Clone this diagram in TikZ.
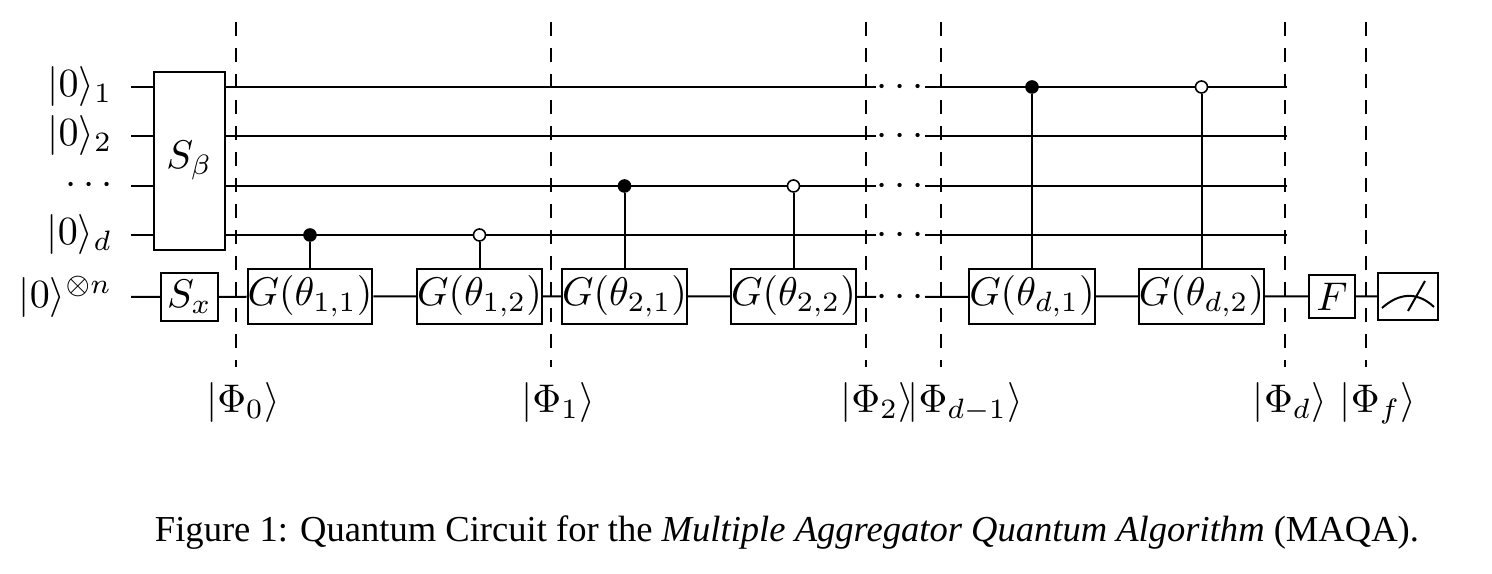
\documentclass[tikz,border=0pt]{standalone}
\usepackage{fontspec}
\newfontfamily\capfont{Liberation Serif}
\begin{document}
\begin{tikzpicture}[x=0.25pt,y=-0.25pt,
  wire/.style={line width=0.5pt},
  box/.style={draw,line width=0.5pt,fill=white,inner sep=0pt,minimum height=13.6pt},
  gate/.style={box,minimum width=30.9pt},
  barrier/.style={line width=0.5pt,dash pattern=on 3.4pt off 3.1pt},
  ctrl/.style={circle,draw,fill=black,inner sep=0pt,minimum size=3pt,line width=0.4pt},
  octrl/.style={ctrl,fill=white},
  lab/.style={anchor=east,inner sep=0pt},
  dots/.style={anchor=base,inner sep=0pt}]
\useasboundingbox (0,0) rectangle (1492,574);
% barriers
\foreach \n/\x in {b0/236,b1/551,b2/866,b3/941,b4/1285,b5/1366}{
  \coordinate (\n t) at (\x,22); \coordinate (\n b) at (\x,367);
  \draw[barrier] (\n t) -- (\n b);}
% boxes
\node[box,minimum width=17.75pt,minimum height=44.5pt] (Sb) at (189.5,161) {$S_\beta$};
\node[box,minimum width=14.25pt,minimum height=12pt] (Sx) at (189.5,297) {$S_x$};
\node[gate] (G11) at (310,296.5) {$G(\theta_{1,1})$};
\node[gate] (G12) at (479.5,296.5) {$G(\theta_{1,2})$};
\node[gate] (G21) at (624.5,296.5) {$G(\theta_{2,1})$};
\node[gate] (G22) at (793.5,296.5) {$G(\theta_{2,2})$};
\node[gate] (Gd1) at (1032,296.5) {$G(\theta_{d,1})$};
\node[gate] (Gd2) at (1201.5,296.5) {$G(\theta_{d,2})$};
\node[box,minimum width=11.5pt,minimum height=10.8pt] (F) at (1332,296.5) {$F$};
\node[box,minimum width=15pt,minimum height=11.75pt] (M) at (1408,296.5) {};
\draw[line width=0.5pt] (1382,308) .. controls (1400,292) and (1418,292) .. (1434,307);
\draw[line width=0.5pt] (1408,311) -- (1425,281);
% qubit wires
\foreach \i/\y/\t in {1/87/{|0\rangle_1},2/136/{|0\rangle_2},3/186/{\cdots},4/235/{|0\rangle_d}}{
  \node[lab] (L\i) at (113,\y) {$\t$};
  \coordinate (s\i) at (131,\y);
  \coordinate (a\i) at (876,\y);
  \coordinate (c\i) at (925,\y);
  \coordinate (e\i) at (1287,\y);
  \draw[wire] (s\i) -- (Sb.west|-s\i);
  \draw[wire] (Sb.east|-s\i) -- (a\i);
  \draw[wire] (c\i) -- (e\i);
  \node[dots] (D\i) at (900,\y+10) {$\cdots$};}
% register wire
\node[lab] (L5) at (113,297) {$|0\rangle^{\otimes n}$};
\coordinate (s5) at (131,297);
\coordinate (a5) at (876,297);
\coordinate (c5) at (925,297);
\node[dots] (D5) at (900,307) {$\cdots$};
\draw[wire] (s5) -- (Sx) -- (G11) -- (G12) -- (G21) -- (G22) -- (a5);
\draw[wire] (c5) -- (Gd1) -- (Gd2) -- (F) -- (M);
% controls
\node[ctrl] (k1) at (310,235) {};
\node[octrl] (k2) at (479.5,235) {};
\node[ctrl] (k3) at (624.5,186) {};
\node[octrl] (k4) at (793.5,186) {};
\node[ctrl] (k5) at (1032,87) {};
\node[octrl] (k6) at (1201.5,87) {};
\draw[wire] (k1) -- (G11);
\draw[wire] (k2) -- (G12);
\draw[wire] (k3) -- (G21);
\draw[wire] (k4) -- (G22);
\draw[wire] (k5) -- (Gd1);
\draw[wire] (k6) -- (Gd2);
% state labels
\node (P0) at (243,403) {$|\Phi_0\rangle$};
\node (P1) at (558,403) {$|\Phi_1\rangle$};
\node (P2) at (877,403) {$|\Phi_2\rangle$};
\node (P3) at (965,403) {$|\Phi_{d-1}\rangle$};
\node (P4) at (1290,403) {$|\Phi_d\rangle$};
\node (P5) at (1378,403) {$|\Phi_f\rangle$};
% caption
\node (cap) at (787,533) {\resizebox{316pt}{!}{\capfont Figure 1: Quantum Circuit for the \textit{Multiple Aggregator Quantum Algorithm} (MAQA).}};
\end{tikzpicture}
\end{document}
